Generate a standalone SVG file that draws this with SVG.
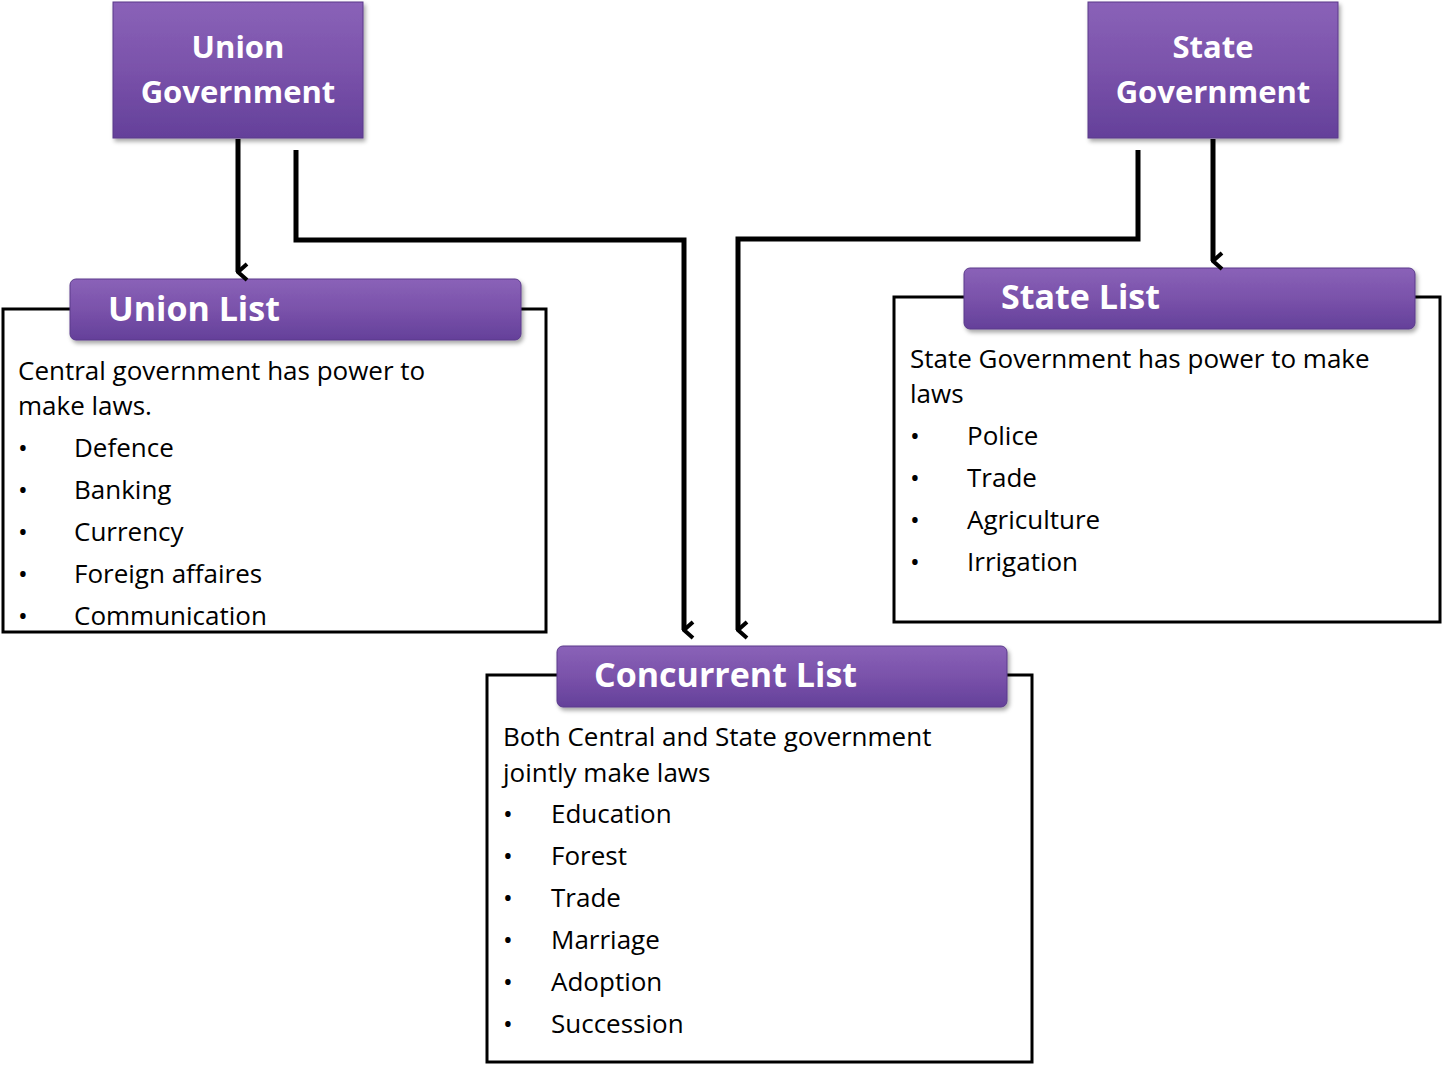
<svg xmlns="http://www.w3.org/2000/svg" width="1442" height="1065" viewBox="0 0 1442 1065">
<defs>
<linearGradient id="pg" x1="0" y1="0" x2="0" y2="1">
<stop offset="0" stop-color="#8a62b8"/><stop offset="0.5" stop-color="#7a52aa"/><stop offset="1" stop-color="#64409a"/>
</linearGradient>
<filter id="sh" x="-5%" y="-10%" width="110%" height="130%"><feDropShadow dx="2" dy="3" stdDeviation="2" flood-opacity="0.35"/></filter>
<marker id="ar" viewBox="0 0 20 20" refX="10" refY="18" markerWidth="20" markerHeight="20" markerUnits="userSpaceOnUse" orient="auto-start-reverse">
<path d="M2,9 L10,18 L18,9" fill="none" stroke="#000" stroke-width="4"/>
</marker>
</defs>
<style>
.hd{fill:url(#pg);stroke:#5a3a8a;stroke-width:1;filter:url(#sh)}
.bx{fill:#fff;stroke:#000;stroke-width:3}
.tw{font-family:"Open Sans","Liberation Sans",sans-serif;font-weight:bold;fill:#fff}
.tb{font-family:"Open Sans","Liberation Sans",sans-serif;font-size:26px;fill:#000}
.cn{fill:none;stroke:#000;stroke-width:5}
</style>
<g id="union-list">
<rect class="bx" x="3" y="309" width="543" height="323"/>
<rect class="hd" x="70" y="279" width="451" height="61" rx="6"/>
<text class="tw" x="108" y="321" font-size="34">Union List</text>
<text class="tb"><tspan x="18" y="380">Central government has power to</tspan><tspan x="18" y="415">make laws.</tspan>
<tspan x="18" y="457">•</tspan><tspan x="74" y="457">Defence</tspan>
<tspan x="18" y="499">•</tspan><tspan x="74" y="499">Banking</tspan>
<tspan x="18" y="541">•</tspan><tspan x="74" y="541">Currency</tspan>
<tspan x="18" y="583">•</tspan><tspan x="74" y="583">Foreign affaires</tspan>
<tspan x="18" y="625">•</tspan><tspan x="74" y="625">Communication</tspan></text>
</g>
<g id="state-list">
<rect class="bx" x="894" y="297" width="546" height="325"/>
<rect class="hd" x="964" y="268" width="451" height="61" rx="6"/>
<text class="tw" x="1001" y="309" font-size="34">State List</text>
<text class="tb"><tspan x="910" y="368">State Government has power to make</tspan><tspan x="910" y="403">laws</tspan>
<tspan x="910" y="445">•</tspan><tspan x="967" y="445">Police</tspan>
<tspan x="910" y="487">•</tspan><tspan x="967" y="487">Trade</tspan>
<tspan x="910" y="529">•</tspan><tspan x="967" y="529">Agriculture</tspan>
<tspan x="910" y="571">•</tspan><tspan x="967" y="571">Irrigation</tspan></text>
</g>
<g id="concurrent-list">
<rect class="bx" x="487" y="675" width="545" height="387"/>
<rect class="hd" x="557" y="646" width="450" height="61" rx="6"/>
<text class="tw" x="594" y="687" font-size="34">Concurrent List</text>
<text class="tb"><tspan x="503" y="746">Both Central and State government</tspan><tspan x="503" y="782">jointly make laws</tspan>
<tspan x="503" y="823">•</tspan><tspan x="551" y="823">Education</tspan>
<tspan x="503" y="865">•</tspan><tspan x="551" y="865">Forest</tspan>
<tspan x="503" y="907">•</tspan><tspan x="551" y="907">Trade</tspan>
<tspan x="503" y="949">•</tspan><tspan x="551" y="949">Marriage</tspan>
<tspan x="503" y="991">•</tspan><tspan x="551" y="991">Adoption</tspan>
<tspan x="503" y="1033">•</tspan><tspan x="551" y="1033">Succession</tspan></text>
</g>
<g id="union-gov">
<rect class="hd" x="113" y="2" width="250" height="136"/>
<text class="tw" font-size="31" text-anchor="middle"><tspan x="238" y="58">Union</tspan><tspan x="238" y="103">Government</tspan></text>
</g>
<g id="state-gov">
<rect class="hd" x="1088" y="2" width="250" height="136"/>
<text class="tw" font-size="31" text-anchor="middle"><tspan x="1213" y="58">State</tspan><tspan x="1213" y="103">Government</tspan></text>
</g>
<g id="connectors">
<path class="cn" d="M238,139 V272" marker-end="url(#ar)"/>
<path class="cn" d="M296,150 V240 H684 V630" marker-end="url(#ar)"/>
<path class="cn" d="M1138,150 V239 H738 V630" marker-end="url(#ar)"/>
<path class="cn" d="M1213,139 V261" marker-end="url(#ar)"/>
</g>
</svg>
